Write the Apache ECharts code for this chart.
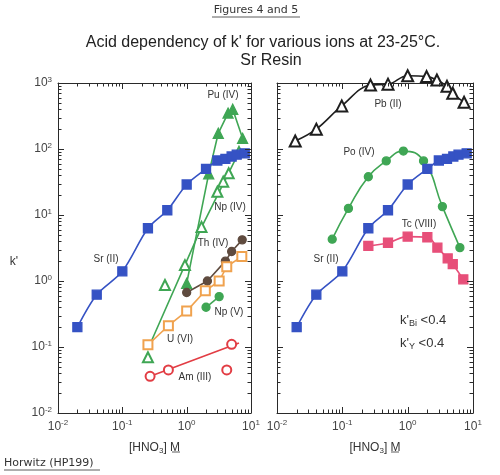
<!DOCTYPE html>
<html><head><meta charset="utf-8">
<script src="https://cdn.jsdelivr.net/npm/echarts@6/dist/echarts.min.js"></script>
<style>html,body{margin:0;padding:0;background:#fff}#c{width:500px;height:475px}</style>
</head><body><div id="c"></div>
<script>
// ---- data ----
const xMajor = [0.01, 0.1, 1, 10];
const xMinor = [0.02,0.03,0.04,0.05,0.06,0.07,0.08,0.09,0.2,0.3,0.4,0.5,0.6,0.7,0.8,0.9,2,3,4,5,6,7,8,9];
const yMajor = [0.01, 0.1, 1, 10, 100, 1000];
const yMinor = [0.02,0.03,0.04,0.05,0.06,0.07,0.08,0.09,0.2,0.3,0.4,0.5,0.6,0.7,0.8,0.9,2,3,4,5,6,7,8,9,20,30,40,50,60,70,80,90,200,300,400,500,600,700,800,900];

const srX = [0.02,0.04,0.1,0.25,0.5,1,2,3,4,5,6,8];
const srY = [0.2,0.62,1.4,6.3,11.8,29,50,67,71,77,82,86];

const puX = [1.0,2.2,3.1,4.4,5.2,7.4];
const puY = [0.92,42,173,350,400,145];

const npIVX = [0.25,0.46,0.94,1.7,3.0,3.7,4.5,6.5];
const npIVY = [0.07,0.87,1.74,6.6,22.5,32,43,90];
const npIVFitX = [0.28,1.7,6.6];
const npIVFitY = [0.12,6.5,92];

const thX = [1.0,2.1,4.0,5.0,7.3];
const thY = [0.67,1.0,2.0,2.8,4.2];

const uX = [0.25,0.52,1.0,1.95,3.2,4.2,7.2];
const uY = [0.108,0.21,0.35,0.71,1.0,1.65,2.35];

const npVX = [2.0,3.2];
const npVY = [0.40,0.58];

const amX = [0.27,0.52,5.0];
const amY = [0.036,0.045,0.11];
const amFitX = [0.23,6.5];
const amFitY = [0.034,0.115];
const amOutX = [4.2];
const amOutY = [0.045];

const pbX = [0.019,0.04,0.098,0.27,0.5,1.0,1.95,2.8,4.0,4.9,7.3];
const pbY = [132,200,450,930,960,1290,1250,1110,890,700,510];

const poX = [0.07,0.124,0.25,0.47,0.86,1.75,3.4,6.3];
const poY = [4.3,12.6,38,66,93,66,13.4,3.2];

const tcX = [0.25,0.5,1,2,2.85,4.1,4.9,7.1];
const tcY = [3.4,3.8,4.7,4.6,3.2,2.2,1.8,1.06];

// ---- helpers ----
const zip = (xs, ys) => xs.map((x, i) => [x, ys[i]]);
const FONT = 'Liberation Sans';
const AX = '#2a2a2a';
const supRich = {
  b: {fontSize: 12, color: '#444', fontFamily: FONT},
  s: {fontSize: 8, color: '#444', fontFamily: FONT, padding: [0, 0, 7, 0]}
};
const expFmt = v => '{b|10}{s|' + Math.round(Math.log10(v)) + '}';
const X_MIN = 0.01, X_MAX = 10, Y_MIN = 0.01, Y_MAX = 1000;
const GRIDS = [
  {left: 58, top: 83, width: 193, height: 330},
  {left: 277, top: 83, width: 196, height: 330}
];

function xAxesFor(gi) {
  const base = {type: 'log', logBase: 10, min: X_MIN, max: X_MAX, gridIndex: gi, splitLine: {show: false}};
  return [
    Object.assign({}, base, {position: 'bottom',
      axisLine: {show: true, lineStyle: {color: AX, width: 1}},
      axisTick: {show: false},
      axisLabel: {show: true, customValues: xMajor, formatter: expFmt, rich: supRich, margin: 6},
      name: '{a|[HNO}{sub|3}{a|] M}',
      nameLocation: 'middle', nameGap: 28,
      nameTextStyle: {rich: {a: {fontSize: 12, color: '#333', fontFamily: FONT},
        sub: {fontSize: 8, color: '#333', fontFamily: FONT, padding: [6, 0, 0, 0]}}}
    }),
    Object.assign({}, base, {position: 'top', axisLine: {show: true, lineStyle: {color: AX, width: 1}},
      axisTick: {show: false}, axisLabel: {show: false}})
  ];
}
function yAxesFor(gi, withLabels) {
  const base = {type: 'log', logBase: 10, min: Y_MIN, max: Y_MAX, gridIndex: gi, splitLine: {show: false}};
  return [
    Object.assign({}, base, {position: 'left',
      axisLine: {show: true, lineStyle: {color: AX, width: 1}},
      axisTick: {show: false},
      axisLabel: withLabels ? {show: true, customValues: yMajor, formatter: expFmt, rich: supRich, margin: 6} : {show: false}
    }),
    Object.assign({}, base, {position: 'right', axisLine: {show: true, lineStyle: {color: AX, width: 1}},
      axisTick: {show: false}, axisLabel: {show: false}})
  ];
}

const C = {blue: '#3552c4', green: '#3fa654', brown: '#5f4b3f', orange: '#f0a24e', red: '#e23d44', pink: '#e74f79', black: '#1e1e1e'};

function ser(gi, data, color, symbol, size, opts) {
  return Object.assign({
    type: 'line', xAxisIndex: gi * 2, yAxisIndex: gi * 2, data: data,
    symbol: symbol, symbolSize: size, showSymbol: true, clip: false,
    lineStyle: {color: color, width: 1.6},
    itemStyle: {color: color, borderColor: color, borderWidth: 1.3},
    emphasis: {disabled: true}, silent: true, animation: false
  }, opts || {});
}
const noLine = {lineStyle: {width: 0, opacity: 0}};

const series = [
  // left panel
  ser(0, zip(npIVFitX, npIVFitY), C.green, 'none', 0),
  ser(0, zip(npIVX, npIVY), C.green, 'emptyTriangle', 10, noLine),
  ser(0, zip(puX, puY), C.green, 'triangle', 10),
  ser(0, zip(srX, srY), C.blue, 'rect', 9, {smooth: 0.3}),
  ser(0, zip(thX, thY), C.brown, 'circle', 8),
  ser(0, zip(uX, uY), C.orange, 'emptyRect', 9),
  ser(0, zip(npVX, npVY), C.green, 'circle', 8),
  ser(0, zip(amFitX, amFitY), C.red, 'none', 0),
  ser(0, zip(amX, amY), C.red, 'emptyCircle', 9, noLine),
  ser(0, zip(amOutX, amOutY), C.red, 'emptyCircle', 9, noLine),
  // right panel
  ser(1, zip(pbX, pbY), C.black, 'emptyTriangle', 11, {smooth: 0.4}),
  ser(1, zip(poX, poY), C.green, 'circle', 8, {smooth: 0.5}),
  ser(1, zip(srX, srY), C.blue, 'rect', 9, {smooth: 0.3}),
  ser(1, zip(tcX, tcY), C.pink, 'rect', 9, {smooth: 0.4})
];

function lbl(text, x, y, size) {
  return {type: 'text', x: x, y: y, style: {text: text, fill: '#333', fontSize: size || 10, fontFamily: FONT, align: 'center', verticalAlign: 'middle'}};
}
function uline(x1, x2, y, w) {
  return {type: 'line', shape: {x1: x1, y1: y, x2: x2, y2: y}, style: {stroke: '#333', lineWidth: w || 1}};
}

const graphic = [
  {type: 'text', x: 256, y: 10, style: {text: 'Figures 4 and 5', fill: '#333', fontSize: 11, fontFamily: 'DejaVu Sans', align: 'center', verticalAlign: 'middle'}},
  uline(212, 300, 17, 0.8),
  {type: 'text', x: 263, y: 43, style: {text: "Acid dependency of k' for various ions at 23-25\u00B0C.", fill: '#222', fontSize: 16, fontFamily: FONT, align: 'center', verticalAlign: 'middle'}},
  {type: 'text', x: 271, y: 61, style: {text: 'Sr Resin', fill: '#222', fontSize: 16, fontFamily: FONT, align: 'center', verticalAlign: 'middle'}},
  {type: 'text', x: 4, y: 463, style: {text: 'Horwitz (HP199)', fill: '#333', fontSize: 11, fontFamily: 'DejaVu Sans', align: 'left', verticalAlign: 'middle'}},
  uline(4, 100, 470, 0.8),
  uline(172, 180, 452, 0.8),
  uline(391, 399, 452, 0.8),
  {type: 'text', x: 14, y: 262, style: {text: "k'", fill: '#333', fontSize: 12, fontFamily: FONT, align: 'center', verticalAlign: 'middle'}},
  lbl('Pu (IV)', 223, 95), lbl('Np (IV)', 230, 207), lbl('Th (IV)', 213, 243),
  lbl('Np (V)', 229, 312), lbl('U (VI)', 180, 339), lbl('Am (III)', 195, 377),
  lbl('Sr (II)', 106, 259),
  lbl('Pb (II)', 388, 104), lbl('Po (IV)', 359, 152), lbl('Tc (VIII)', 419, 224),
  lbl('Sr (II)', 326, 259),
  {type: 'text', x: 400, y: 320, style: {text: "{k|k'}{s|Bi}{k| <0.4}", fontFamily: FONT, align: 'left', verticalAlign: 'middle',
    rich: {k: {fontSize: 13, fill: '#333', fontFamily: FONT}, s: {fontSize: 9, fill: '#333', fontFamily: FONT, padding: [8, 0, 0, 0]}}}},
  {type: 'text', x: 400, y: 343, style: {text: "{k|k'}{s|Y}{k| <0.4}", fontFamily: FONT, align: 'left', verticalAlign: 'middle',
    rich: {k: {fontSize: 13, fill: '#333', fontFamily: FONT}, s: {fontSize: 9, fill: '#333', fontFamily: FONT, padding: [8, 0, 0, 0]}}}}
];

const chart = echarts.init(document.getElementById('c'), null, {renderer: 'canvas'});
chart.setOption({
  animation: false,
  backgroundColor: '#fff',
  grid: GRIDS,
  xAxis: xAxesFor(0).concat(xAxesFor(1)),
  yAxis: yAxesFor(0, true).concat(yAxesFor(1, false)),
  series: series,
  graphic: graphic
});

// tick marks on all four sides, positioned through the axes' own log scales
function tickGraphics(gi) {
  const xa = {xAxisIndex: gi * 2}, ya = {yAxisIndex: gi * 2};
  const yb = chart.convertToPixel(ya, Y_MIN), yt = chart.convertToPixel(ya, Y_MAX);
  const xl = chart.convertToPixel(xa, X_MIN), xr = chart.convertToPixel(xa, X_MAX);
  const out = [];
  const ln = (x1, y1, x2, y2) => out.push({type: 'line', z: 50, silent: true,
    shape: {x1: x1, y1: y1, x2: x2, y2: y2}, style: {stroke: AX, lineWidth: 1}});
  const addX = (vals, len) => vals.forEach(v => {
    const px = Math.round(chart.convertToPixel(xa, v)) + 0.5;
    ln(px, yb, px, yb - len); ln(px, yt, px, yt + len);
  });
  const addY = (vals, len) => vals.forEach(v => {
    const py = Math.round(chart.convertToPixel(ya, v)) + 0.5;
    ln(xl, py, xl + len, py); ln(xr, py, xr - len, py);
  });
  addX(xMajor, 6); addX(xMinor, 3.5); addY(yMajor, 6); addY(yMinor, 3.5);
  return out;
}
chart.setOption({graphic: graphic.concat(tickGraphics(0), tickGraphics(1))});
</script>
</body></html>
